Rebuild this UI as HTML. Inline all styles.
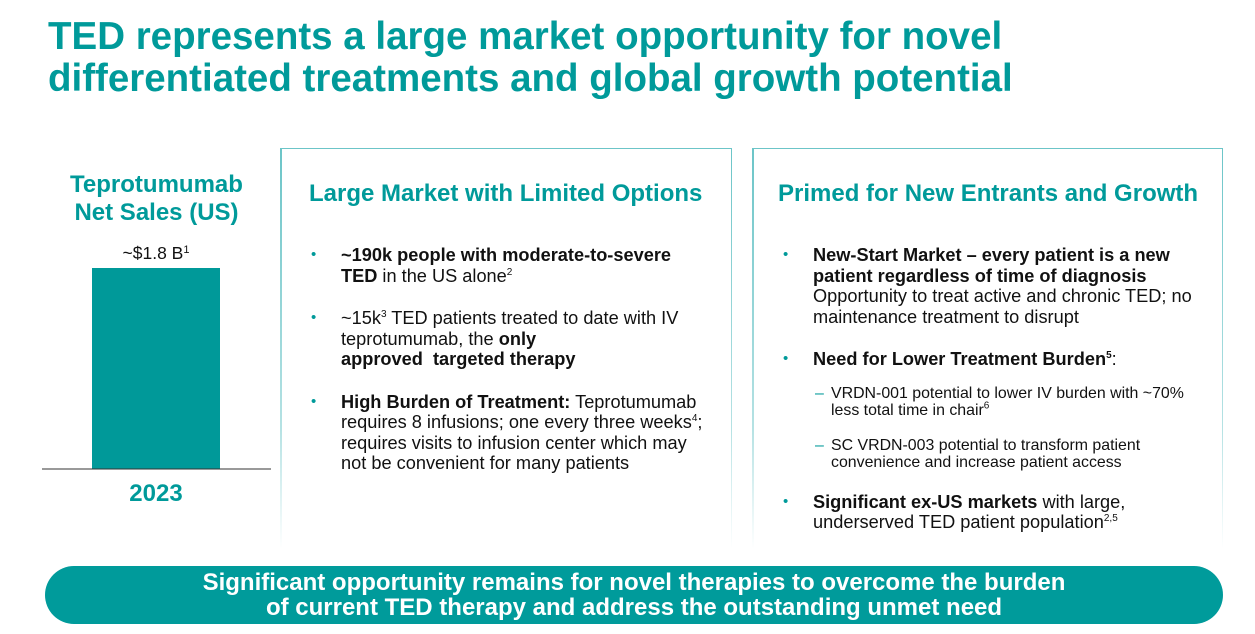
<!DOCTYPE html>
<html><head><meta charset="utf-8">
<style>
body{margin:0;width:1255px;height:634px;background:#fff;font-family:"Liberation Sans",Arial,sans-serif;position:relative;overflow:hidden}
.a{position:absolute}
h1{position:absolute;left:48px;top:16px;margin:0;font-size:38.5px;line-height:42px;color:#009a9a;font-weight:bold;white-space:nowrap}
.box{position:absolute;top:148px;height:400px;border-top:1.5px solid #6cc5c8}
.box:before,.box:after{content:"";position:absolute;top:0;width:1.5px;height:400px;background:linear-gradient(#6cc5c8,rgba(108,197,200,0.5) 70%,rgba(108,197,200,0))}
.box:before{left:0}.box:after{right:0}
.bt{position:absolute;font-size:24px;font-weight:bold;color:#009a9a;white-space:nowrap}
ul{list-style:none;margin:0;padding:0;position:absolute}
li{position:relative;font-size:18.2px;line-height:20.5px;color:#111;white-space:nowrap}
li.b:before{content:"•";position:absolute;left:-30px;color:#009a9a;font-size:15px}
li.s{font-size:15.9px;line-height:17.5px;margin-left:18px}
li.s:before{content:"–";position:absolute;left:-16px;color:#009a9a}
sup{font-size:10px;line-height:0}
</style></head><body>
<h1>TED represents a large market opportunity for novel<br>differentiated treatments and global growth potential</h1>

<div class="a" style="left:32px;top:171px;width:249px;text-align:center;font-size:24px;line-height:28px;font-weight:bold;color:#009a9a">Teprotumumab<br>Net Sales (US)</div>
<svg class="a" style="left:0;top:0" width="300" height="520" id="chart"></svg>

<div class="box" style="left:280px;width:452px">
<div class="bt" style="left:29px;top:31px">Large Market with Limited Options</div>
<ul style="left:61px;top:96px;width:375px">
<li class="b"><b>~190k people with moderate-to-severe<br>TED</b> in the US alone<sup>2</sup></li>
<li class="b" style="margin-top:22px">~15k<sup>3</sup> TED patients treated to date with IV<br>teprotumumab, the <b>only<br>approved&nbsp; targeted therapy</b></li>
<li class="b" style="margin-top:22px"><b>High Burden of Treatment:</b> Teprotumumab<br>requires 8 infusions; one every three weeks<sup>4</sup>;<br>requires visits to infusion center which may<br>not be convenient for many patients</li>
</ul></div>

<div class="box" style="left:752px;width:471px">
<div class="bt" style="left:26px;top:31px">Primed for New Entrants and Growth</div>
<ul style="left:61px;top:96px;width:400px">
<li class="b"><b>New-Start Market – every patient is a new<br>patient regardless of time of diagnosis</b><br>Opportunity to treat active and chronic TED; no<br>maintenance treatment to disrupt</li>
<li class="b" style="margin-top:22px"><b>Need for Lower Treatment Burden<sup>5</sup></b>:</li>
<li class="s" style="margin-top:15px">VRDN-001 potential to lower IV burden with ~70%<br>less total time in chair<sup>6</sup></li>
<li class="s" style="margin-top:17px">SC VRDN-003 potential to transform patient<br>convenience and increase patient access</li>
<li class="b" style="margin-top:20px"><b>Significant ex-US markets</b> with large,<br>underserved TED patient population<sup>2,5</sup></li>
</ul></div>

<div class="a" style="left:45px;top:566px;width:1178px;height:58px;border-radius:29px;background:#009b9b;color:#fff;font-weight:bold;font-size:24px;line-height:25px;text-align:center;padding-top:4px;box-sizing:border-box;white-space:nowrap">Significant opportunity remains for novel therapies to overcome the burden<br>of current TED therapy and address the outstanding unmet need</div>

<script>
const categories=["2023"];
const values=[1.8];
const valueLabels=["~$1.8 B"];
const svg=document.getElementById('chart');
const NS="http://www.w3.org/2000/svg";
const y0=469, yTop=268, maxV=1.8;
const y=v=>y0-(v/maxV)*(y0-yTop);
const bx=i=>92+i*150;
function mk(t,a){const e=document.createElementNS(NS,t);for(const k in a)e.setAttribute(k,a[k]);svg.appendChild(e);return e;}
categories.forEach((c,i)=>{
 const r=mk('rect',{x:bx(i),y:y(values[i]),width:128,height:y0-y(values[i]),fill:'#009999'});
 
 
 const t=mk('text',{x:bx(i)+64,y:y(values[i])-9,'text-anchor':'middle','font-size':'17.5','fill':'#111','font-family':'Liberation Sans'});
 t.textContent=valueLabels[i];
 const s=document.createElementNS(NS,'tspan');s.setAttribute('dy','-6');s.setAttribute('font-size','11');s.textContent='1';t.appendChild(s);
 
 
 const l=mk('text',{x:bx(i)+64,y:y0+32,'text-anchor':'middle','font-size':'24','font-weight':'bold','fill':'#009a9a','font-family':'Liberation Sans'});
 l.textContent=c;
 
 
});
const ax=mk('line',{x1:42,x2:271,y1:y0,y2:y0,stroke:'#333','stroke-width':1});


</script>
</body></html>
